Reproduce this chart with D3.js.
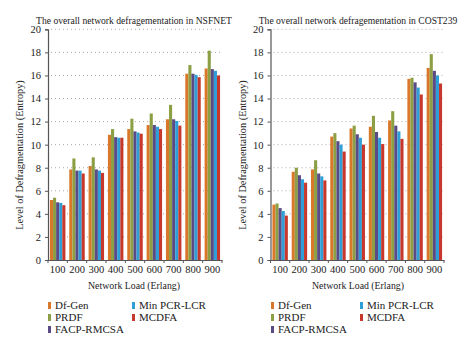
<!DOCTYPE html>
<html><head><meta charset="utf-8">
<script src="https://cdn.jsdelivr.net/npm/d3@7"></script>
<style>body{margin:0;background:#fff}svg{display:block}text{font-family:"Liberation Serif","DejaVu Serif",serif;fill:#222}</style>
</head><body>
<svg id="c" width="474" height="353"></svg>
<script>
const categories = ["100","200","300","400","500","600","700","800","900"];
const seriesNames = ["Df-Gen","PRDF","FACP-RMCSA","Min PCR-LCR","MCDFA"];
const colors = ["#d9782a","#8c9f45","#5a4b86","#2f9fd8","#c8372b"];
const yTicks = [0,2,4,6,8,10,12,14,16,18,20];
// NSFNET
const nsfDfGen  = [5.2,7.85,8.15,10.85,11.35,11.7,12.2,16.15,16.6];
const nsfPRDF   = [5.4,8.8,8.9,11.35,12.25,12.7,13.45,16.9,18.15];
const nsfFACP   = [5.0,7.75,7.85,10.65,11.15,11.7,12.2,16.15,16.55];
const nsfMinPCR = [4.95,7.75,7.75,10.6,11.05,11.55,12.05,16.05,16.4];
const nsfMCDFA  = [4.75,7.5,7.55,10.6,10.95,11.35,11.65,15.85,16.0];
// COST239
const cosDfGen  = [4.8,7.65,7.85,10.7,11.4,11.55,12.1,15.7,16.65];
const cosPRDF   = [4.9,8.0,8.65,11.0,11.65,12.5,12.9,15.8,17.85];
const cosFACP   = [4.5,7.35,7.5,10.3,10.9,11.1,11.65,15.4,16.4];
const cosMinPCR = [4.25,7.0,7.25,10.0,10.6,10.6,11.15,14.95,16.0];
const cosMCDFA  = [3.85,6.7,6.9,9.4,10.0,10.05,10.5,14.35,15.3];

const svg = d3.select("#c");

function panel(o) {
  const g = svg.append("g");
  const x = d3.scaleBand().domain(categories).range([o.x0, o.x1]).paddingInner(0.2).paddingOuter(0.1);
  const xb = d3.scaleBand().domain(categories).range([o.x0, o.x1]);
  const y = d3.scaleLinear().domain([0,20]).range([260, 29.3]);
  const xs = d3.scaleBand().domain(seriesNames).range([0, x.bandwidth()]);
  // grid
  g.append("g").selectAll("line").data(yTicks.filter(d=>d>0)).join("line")
    .attr("x1", o.x0+3).attr("x2", o.x1).attr("y1", d=>y(d)).attr("y2", d=>y(d))
    .attr("stroke", "#aaa").attr("stroke-width", 1).attr("stroke-dasharray", "1,3");
  // bars
  o.series.forEach((vals, si) => {
    g.append("g").selectAll("rect").data(vals).join("rect")
      .attr("x", (d,i)=>x(categories[i]) + xs(seriesNames[si]))
      .attr("width", xs.bandwidth())
      .attr("y", d=>y(d)).attr("height", d=>y(0)-y(d))
      .attr("fill", colors[si]);
  });
  // y axis
  const ya = g.append("g").attr("transform", `translate(${o.x0},0)`)
    .call(d3.axisLeft(y).tickValues(yTicks).tickSize(3).tickPadding(4));
  ya.select(".domain").attr("stroke", "#555").attr("stroke-width", 1.2);
  ya.selectAll(".tick line").attr("stroke", "#555");
  ya.selectAll("text").style("font-size", "10.5px").attr("fill", "#111");
  // x axis
  const xa = g.append("g").attr("transform", `translate(0,${y(0)})`)
    .call(d3.axisBottom(x).tickSize(0).tickPadding(6));
  xa.select(".domain").attr("stroke", "#555").attr("stroke-width", 1.2);
  xa.selectAll("text").style("font-size", "10.5px").attr("fill", "#111");
  g.append("g").selectAll("line").data(categories.concat(["end"])).join("line")
    .attr("x1", (d,i)=> i<categories.length ? xb(d) : o.x1)
    .attr("x2", (d,i)=> i<categories.length ? xb(d) : o.x1)
    .attr("y1", y(0)).attr("y2", y(0)+3).attr("stroke", "#555");
  // titles
  g.append("text").attr("x", o.tx).attr("y", 24).attr("text-anchor", "middle")
    .style("font-size", "9.6px").text(o.title);
  g.append("text").attr("transform", `translate(${o.yl},155) rotate(-90)`)
    .attr("text-anchor", "middle").style("font-size", "10.3px").text("Level of Defragmentation (Entropy)");
  g.append("text").attr("x", o.tx).attr("y", 289).attr("text-anchor", "middle")
    .style("font-size", "9.8px").text("Network Load (Erlang)");
  // legend: Df-Gen, PRDF, FACP in column 1; Min PCR-LCR, MCDFA in column 2
  const lpos = [[0,0],[0,1],[0,2],[1,0],[1,1]];
  const lg = g.append("g").attr("transform", `translate(${o.lx},0)`);
  const items = lg.selectAll("g").data(seriesNames).join("g")
    .attr("transform", (d,i)=>`translate(${lpos[i][0]*o.lcol},${309 + lpos[i][1]*12})`);
  items.append("rect").attr("x", 0).attr("y", -7).attr("width", 3).attr("height", 7)
    .attr("fill", (d,i)=>colors[i]);
  items.append("text").attr("x", 7).attr("y", 0).style("font-size", "11px").text(d=>d);
}

panel({x0:48, x1:222, tx:134, yl:23, lx:48, lcol:84, title:"The overall network defragementation in NSFNET",
  series:[nsfDfGen,nsfPRDF,nsfFACP,nsfMinPCR,nsfMCDFA]});
panel({x0:270.5, x1:444, tx:358, yl:246, lx:271, lcol:89, title:"The overall network defragementation in COST239",
  series:[cosDfGen,cosPRDF,cosFACP,cosMinPCR,cosMCDFA]});
</script>
</body></html>
